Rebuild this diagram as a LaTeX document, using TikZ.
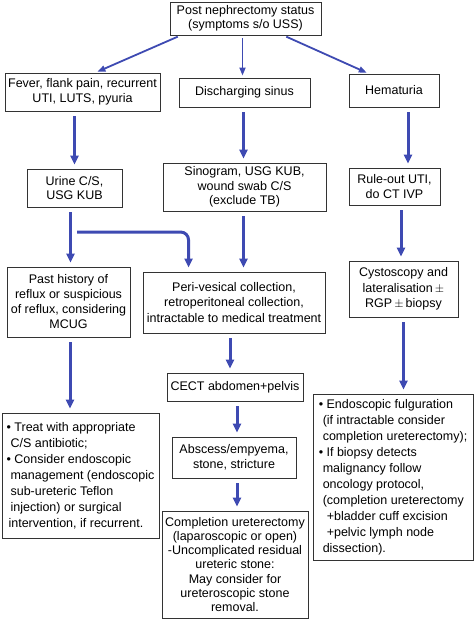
\documentclass[tikz,border=0pt]{standalone}
\usepackage{fontspec}
\setmainfont{Liberation Sans}
\usepackage{tikz}
\usetikzlibrary{arrows.meta,positioning}
\definecolor{flowblue}{RGB}{62,74,178}

\begin{document}
\begin{tikzpicture}[
    x=1pt, y=-1pt,
    font=\fontsize{12.5}{14.5}\selectfont,
    stepbox/.style={rectangle, draw=black!80, line width=0.9pt, inner xsep=2pt, inner ysep=0pt, align=center},
    listbox/.style={stepbox, align=left, font=\fontsize{12.5}{16}\selectfont, inner xsep=4pt},
    arrow/.style={-{Triangle[length=9pt,width=8pt]}, draw=flowblue, line width=3pt, shorten <=5pt, shorten >=4pt},
    thinarrow/.style={-{Triangle[length=8pt,width=6pt]}, draw=flowblue, line width=1.8pt, shorten <=3pt, shorten >=2pt}
  ]
    \useasboundingbox (0,0) rectangle (474,620);
    \node[stepbox, minimum width=151pt, minimum height=33pt] (status) at (245.5,18.5) {Post nephrectomy status\\(symptoms s/o USS)};
    \node[stepbox, minimum width=155pt, minimum height=38pt] (fever) at (82.5,92) {Fever, flank pain, recurrent\\UTI, LUTS, pyuria};
    \node[stepbox, minimum width=131pt, minimum height=29pt] (sinus) at (244.5,92.5) {Discharging sinus};
    \node[stepbox, minimum width=90pt, minimum height=33pt] (hema) at (394,90.5) {Hematuria};
    \node[stepbox, minimum width=95pt, minimum height=38pt] (urine) at (74.5,188) {Urine C/S,\\USG KUB};
    \node[stepbox, minimum width=163pt, minimum height=48pt] (sinogram) at (244.5,187) {Sinogram, USG KUB,\\wound swab C/S\\(exclude TB)};
    \node[stepbox, minimum width=91pt, minimum height=37pt] (ruleout) at (394.5,186.5) {Rule-out UTI,\\do CT IVP};
    \node[stepbox, minimum width=123pt, minimum height=70pt, font=\fontsize{12.5}{15}\selectfont] (reflux) at (68.5,302) {Past history of\\reflux or suspicious\\of reflux, considering\\MCUG};
    \node[stepbox, minimum width=182pt, minimum height=61pt, font=\fontsize{12.5}{15.5}\selectfont] (collect) at (234,302.5) {Peri-vesical collection,\\retroperitoneal collection,\\intractable to medical treatment};
    \node[stepbox, minimum width=109pt, minimum height=56pt, font=\fontsize{12.5}{15.5}\selectfont] (cysto) at (403.5,289) {Cystoscopy and\\lateralisation\,$\pm$\\RGP\,$\pm$\,biopsy};
    \node[stepbox, minimum width=136pt, minimum height=28pt] (cect) at (235,387) {CECT abdomen+pelvis};
    \node[stepbox, minimum width=124pt, minimum height=41pt] (abscess) at (234,457.5) {Abscess/empyema,\\stone, stricture};
    \node[listbox, minimum width=157pt, minimum height=125pt] (treat) at (80.5,475.5) {\textbullet\ Treat with appropriate\\
      \hspace*{4pt}C/S antibiotic;\\
      \textbullet\ Consider endoscopic\\
      \hspace*{4pt}management (endoscopic\\
      \hspace*{4pt}sub-ureteric Teflon\\
      \hspace*{4pt}injection) or surgical\\
      \hspace*{2pt}intervention, if recurrent.};
    \node[listbox, minimum width=160pt, minimum height=166pt, inner xsep=3pt] (fulgur) at (393,477) {\textbullet\ Endoscopic fulguration\\
      \hspace*{4pt}(if intractable consider\\
      \hspace*{4pt}completion ureterectomy);\\
      \textbullet\ If biopsy detects\\
      \hspace*{4pt}malignancy follow\\
      \hspace*{4pt}oncology protocol,\\
      \hspace*{4pt}(completion ureterectomy\\
      \hspace*{8pt}+bladder cuff excision\\
      \hspace*{8pt}+pelvic lymph node\\
      \hspace*{4pt}dissection).};
    \node[stepbox, minimum width=146pt, minimum height=107pt, font=\fontsize{12.5}{14.2}\selectfont] (complete) at (235,564.5) {Completion ureterectomy\\(laparoscopic or open)\\-Uncomplicated residual\\ureteric stone:\\May consider for\\ureteroscopic stone\\removal.};
    \coordinate (branch) at (77,232);
    % top level
    \draw[thinarrow] ([xshift=11pt]status.south west) -- ([xshift=91pt]fever.north west);
    \draw[thinarrow] ([xshift=-3pt]status.south) -- ([xshift=-3pt]status.south |- sinus.north);
    \draw[thinarrow] ([xshift=114pt]status.south west) -- ([xshift=20pt]hema.north west);
    % columns
    \draw[arrow] (fever.south -| urine.north) -- (urine.north);
    \draw[arrow] ([xshift=-1pt]sinus.south) -- ([xshift=-1pt]sinogram.north);
    \draw[arrow] ([xshift=14pt]hema.south) -- ([xshift=14pt]hema.south |- ruleout.north);
    \draw[arrow] ([xshift=-4pt]urine.south) -- ([xshift=-4pt]urine.south |- reflux.north);
    \draw[arrow, shorten <=0pt, rounded corners=8pt] (branch) -| ([xshift=46pt]collect.north west);
    \draw[arrow] ([xshift=-1pt]sinogram.south) -- ([xshift=-1pt]sinogram.south |- collect.north);
    \draw[arrow] ([xshift=6.5pt]ruleout.south) -- ([xshift=6.5pt]ruleout.south |- cysto.north);
    \draw[arrow] ([xshift=1.5pt]reflux.south) -- ([xshift=1.5pt]reflux.south |- treat.north);
    \draw[arrow] ([xshift=-4pt]collect.south) -- ([xshift=-4pt]collect.south |- cect.north);
    \draw[arrow] ([xshift=2pt]cect.south) -- ([xshift=2pt]cect.south |- abscess.north);
    \draw[arrow] (cysto.south) -- (cysto.south |- fulgur.north);
    \draw[arrow] ([xshift=3pt]abscess.south) -- ([xshift=3pt]abscess.south |- complete.north);
  \end{tikzpicture}
\end{document}
